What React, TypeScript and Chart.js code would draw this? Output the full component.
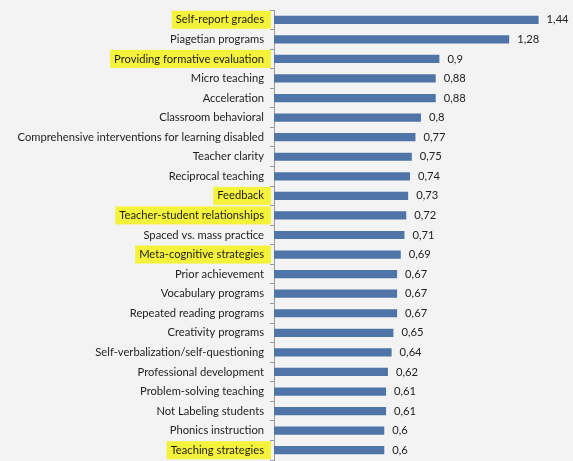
import React, { useEffect, useRef } from "react";
import { Chart, registerables } from "chart.js";

Chart.register(...registerables);

const categories = [
  "Self-report grades",
  "Piagetian programs",
  "Providing formative evaluation",
  "Micro teaching",
  "Acceleration",
  "Classroom behavioral",
  "Comprehensive interventions for learning disabled",
  "Teacher clarity",
  "Reciprocal teaching",
  "Feedback",
  "Teacher-student relationships",
  "Spaced vs. mass practice",
  "Meta-cognitive strategies",
  "Prior achievement",
  "Vocabulary programs",
  "Repeated reading programs",
  "Creativity programs",
  "Self-verbalization/self-questioning",
  "Professional development",
  "Problem-solving teaching",
  "Not Labeling students",
  "Phonics instruction",
  "Teaching strategies",
];

const effectSizes = [
  1.44, 1.28, 0.9, 0.88, 0.88, 0.8, 0.77, 0.75, 0.74, 0.73, 0.72, 0.71, 0.69,
  0.67, 0.67, 0.67, 0.65, 0.64, 0.62, 0.61, 0.61, 0.6, 0.6,
];

const highlighted = [
  "Self-report grades",
  "Providing formative evaluation",
  "Feedback",
  "Teacher-student relationships",
  "Meta-cognitive strategies",
  "Teaching strategies",
];

const FONT_FAMILY = "Lato, 'Open Sans', sans-serif";
const FONT_SIZE = 11.2;
const BG = "#f3f3f3";

const bgAndHighlight = {
  id: "bgAndHighlight",
  beforeDraw(chart: any) {
    const { ctx, width, height } = chart;
    ctx.save();
    ctx.fillStyle = BG;
    ctx.fillRect(0, 0, width, height);
    const y = chart.scales.y;
    ctx.font = `${FONT_SIZE}px ${FONT_FAMILY}`;
    const right = y.right - 4 - 6;
    categories.forEach((c, i) => {
      if (!highlighted.includes(c)) return;
      const py = y.getPixelForTick(i);
      const w = ctx.measureText(c).width;
      ctx.fillStyle = "#f4f23a";
      ctx.fillRect(right - w - 4, py - 9, w + 11, 18);
    });
    ctx.restore();
  },
};

const valueLabels = {
  id: "valueLabels",
  afterDatasetsDraw(chart: any) {
    const { ctx } = chart;
    const meta = chart.getDatasetMeta(0);
    ctx.save();
    ctx.font = `${FONT_SIZE}px ${FONT_FAMILY}`;
    ctx.fillStyle = "#222";
    ctx.textBaseline = "middle";
    ctx.textAlign = "left";
    meta.data.forEach((bar: any, i: number) => {
      const txt = String(effectSizes[i]).replace(".", ",");
      ctx.fillText(txt, bar.x + 8, bar.y);
    });
    ctx.restore();
  },
};

export default function App() {
  const ref = useRef<HTMLCanvasElement | null>(null);
  useEffect(() => {
    if (!ref.current) return;
    const chart = new Chart(ref.current, {
      type: "bar",
      data: {
        labels: categories,
        datasets: [
          {
            data: effectSizes,
            backgroundColor: "#4e74a8",
            borderWidth: 0,
            categoryPercentage: 1,
            barPercentage: 0.42,
          },
        ],
      },
      options: {
        indexAxis: "y",
        animation: false,
        responsive: true,
        maintainAspectRatio: false,
        layout: { padding: { top: 10, bottom: 1, right: 5, left: 0 } },
        plugins: {
          legend: { display: false },
          tooltip: { enabled: false },
        },
        scales: {
          x: { display: false, min: 0, max: 1.6 },
          y: {
            afterFit(scale: any) {
              scale.width = 274;
              scale.paddingTop = 0;
              scale.paddingBottom = 0;
            },
            grid: {
              drawOnChartArea: false,
              drawTicks: true,
              tickLength: 4,
              color: "#9a9a9a",
            },
            border: { display: true, color: "#9a9a9a", width: 1 },
            ticks: {
              color: "#1e1e1e",
              padding: 6,
              autoSkip: false,
              font: { family: FONT_FAMILY, size: FONT_SIZE },
            },
          },
        },
      },
      plugins: [bgAndHighlight, valueLabels],
    });
    return () => chart.destroy();
  }, []);
  return (
    <div
      style={{
        position: "absolute",
        left: 0,
        top: 0,
        width: 573,
        height: 461,
        background: BG,
      }}
    >
      <canvas ref={ref} />
    </div>
  );
}
